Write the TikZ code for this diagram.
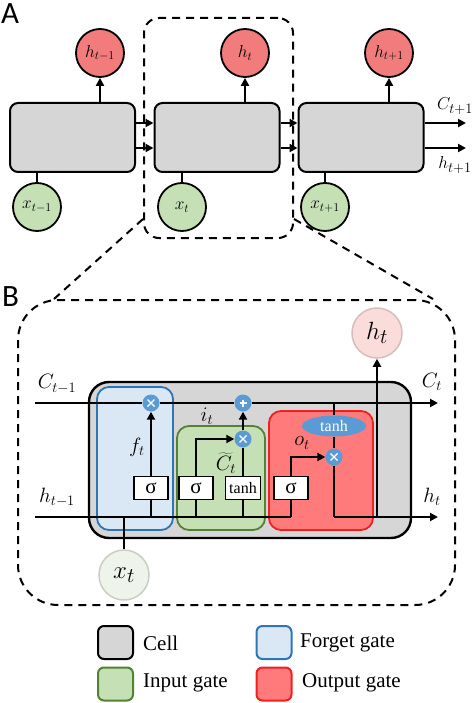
\documentclass[tikz,border=0pt]{standalone}
\usepackage{fontspec}
\setmainfont{Liberation Serif}
\newfontfamily\panelfont{Carlito}
\usetikzlibrary{arrows.meta,shapes.geometric,calc}
\definecolor{cellgray}{HTML}{D6D6D6}
\definecolor{hred}{HTML}{F27C7C}
\definecolor{xgreen}{HTML}{C5E0B4}
\definecolor{fgfill}{HTML}{DAE8F5}
\definecolor{fgdraw}{HTML}{2E75B6}
\definecolor{igfill}{HTML}{C5E0B4}
\definecolor{igdraw}{HTML}{548235}
\definecolor{ogfill}{HTML}{FF7A7A}
\definecolor{ogdraw}{HTML}{F02020}
\definecolor{opblue}{HTML}{5B9BD5}
\definecolor{htfill}{HTML}{FADCDB}
\definecolor{htdraw}{HTML}{D5BDBC}
\definecolor{xtfill}{HTML}{EEF4EA}
\definecolor{xtdraw}{HTML}{C8CEC4}
\newcommand{\fs}[1]{\fontsize{#1}{#1}\selectfont}
\begin{document}
\begin{tikzpicture}[x=1pt,y=-1pt,
  ln/.style={line width=2.6pt},
  arr/.style={line width=2.6pt,-{Triangle[length=8pt,width=8pt]}},
  dash box/.style={draw=black,line width=2pt,dash pattern=on 8pt off 6pt},
  cellA/.style={draw=black,line width=2pt,fill=cellgray,rounded corners=8pt,minimum width=125pt,minimum height=69pt,inner sep=0},
  hA/.style={circle,draw=black,line width=1.8pt,fill=hred,minimum size=48pt,inner sep=0,font=\fs{18}},
  xA/.style={circle,draw=black,line width=1.8pt,fill=xgreen,minimum size=48pt,inner sep=0,font=\fs{18}},
  gate/.style={line width=1.8pt,rounded corners=12pt,inner sep=0},
  opx/.style={circle,fill=opblue,minimum size=17pt,inner sep=0,
    path picture={\draw[white,line width=1.2pt] (path picture bounding box.center) ++(-3.5,-3.5) -- ++(7,7) ++(-7,0) -- ++(7,-7);}},
  opplus/.style={circle,fill=opblue,minimum size=17pt,inner sep=0,
    path picture={\draw[white,line width=1.2pt] (path picture bounding box.center) ++(-3.5,0) -- ++(7,0) ++(-3.5,-3.5) -- ++(0,7);}},
  sbox/.style={draw=black,fill=white,line width=1.2pt,minimum width=34pt,minimum height=23pt,inner sep=0,font=\fs{21}},
  tbox/.style={draw=black,fill=white,line width=1.2pt,minimum width=35pt,minimum height=23pt,inner sep=0,font=\fs{16}},
  lab/.style={inner sep=0,font=\fs{21}},
  legbox/.style={line width=2pt,rounded corners=6pt,minimum width=35pt,minimum height=33pt,inner sep=0},
  legtext/.style={anchor=west,inner sep=0,font=\fs{21}}
]
\useasboundingbox (0,0) rectangle (474,703);

% ---------------- Panel A ----------------
\node[inner sep=0,font=\panelfont\fs{31}] (labA) at (10,14) {A};
\node[cellA] (c1) at (72.5,137.5) {};
\node[cellA] (c2) at (217,137.5) {};
\node[cellA] (c3) at (361,137.5) {};
\node[hA] (h1) at (100,53) {$h_{t-1}$};
\node[hA] (h2) at (245,53) {$h_t$};
\node[hA] (h3) at (389,53) {$h_{t+1}$};
\node[xA] (x1) at (37,207) {$x_{t-1}$};
\node[xA] (x2) at (182,207) {$x_t$};
\node[xA] (x3) at (325,207) {$x_{t+1}$};
\foreach \h/\c in {h1/c1,h2/c2,h3/c3}{
  \draw[arr] (\h.south |- \c.north) -- (\h.south);
}
\foreach \x/\c in {x1/c1,x2/c2,x3/c3}{
  \draw[ln] (\x.north) -- (\x.north |- \c.south);
}
\draw[arr] ([yshift=14.5pt]c1.east) -- ([yshift=14.5pt]c2.west);
\draw[arr] ([yshift=-10.5pt]c1.east) -- ([yshift=-10.5pt]c2.west);
\draw[arr] ([yshift=14.5pt]c2.east) -- ([yshift=14.5pt]c3.west);
\draw[arr] ([yshift=-10.5pt]c2.east) -- ([yshift=-10.5pt]c3.west);
\coordinate (endC) at (466,123);
\coordinate (endH) at (466,148);
\draw[arr] ([yshift=14.5pt]c3.east) -- (endC);
\draw[arr] ([yshift=-10.5pt]c3.east) -- (endH);
\node[lab,font=\fs{19}] (lC1) at (455,106) {$C_{t+1}$};
\node[lab,font=\fs{19}] (lH1) at (455,165) {$h_{t+1}$};
\node[dash box,rounded corners=15pt,minimum width=149pt,minimum height=220pt,inner sep=0] (zoomA) at (218.5,128) {};

% ---------------- Panel B ----------------
\node[inner sep=0,font=\panelfont\fs{31}] (labB) at (10.5,297) {B};
\node[dash box,rounded corners=40pt,minimum width=437pt,minimum height=305pt,inner sep=0] (bigB) at (236.5,452.5) {};
\draw[dash box] ([yshift=20pt]zoomA.south west) -- ($(bigB.north west)+(37,0)$);
\draw[dash box] ([yshift=20pt]zoomA.south east) -- ($(bigB.north east)+(-23,0)$);

\node[draw=black,line width=2.4pt,fill=cellgray,rounded corners=20pt,minimum width=322pt,minimum height=156pt,inner sep=0] (cellB) at (250,460) {};
\node[gate,draw=fgdraw,fill=fgfill,minimum width=76pt,minimum height=143pt] (fg) at (135,458.5) {};
\node[gate,draw=igdraw,fill=igfill,minimum width=88pt,minimum height=104pt] (ig) at (221,478) {};
\node[gate,draw=ogdraw,fill=ogfill,minimum width=104pt,minimum height=119pt] (og) at (321,470.5) {};

\coordinate (Cs) at (35,403);
\coordinate (Ce) at (438,403);
\coordinate (hs) at (35,517);
\coordinate (he) at (438,517);

\node[opx] (fx) at (151,403) {};
\node[opplus] (pl) at (243,403) {};
\node[opx] (ix) at (243,439) {};
\node[opx] (ox) at (334,457) {};
\node[sbox] (sf) at (151,488) {σ};
\node[sbox] (si) at (196,488) {σ};
\node[tbox] (st) at (243,488) {tanh};
\node[sbox] (so) at (291,488) {σ};
\node[ellipse,fill=opblue,minimum width=64pt,minimum height=21pt,inner sep=0,text=white,font=\fs{16}] (te) at (334,426) {tanh};
\node[circle,draw=htdraw,line width=1.5pt,fill=htfill,minimum size=50pt,inner sep=0,font=\fs{28}] (htc) at (377,333) {$h_t$};
\node[circle,draw=xtdraw,line width=1.5pt,fill=xtfill,minimum size=50pt,inner sep=0,font=\fs{28}] (xtc) at (124,575) {$x_t$};

% cell state line
\draw[ln] (Cs) -- (fx.west);
\draw[ln] (fx.east) -- (pl.west);
\draw[arr] (pl.east) -- (Ce);
% hidden line
\draw[ln] (hs) -- (so.south |- hs);
\draw[arr] (ox.south |- he) -- (he);
\draw[ln] (xtc.north) -- (xtc.north |- hs);
% forget gate
\draw[ln] (sf.south |- hs) -- (sf.south);
\draw[arr] (sf.north) -- (fx.south);
% input gate
\draw[ln] (si.south |- hs) -- (si.south);
\draw[arr] (si.north) |- (ix.west);
\draw[ln] (st.south |- hs) -- (st.south);
\draw[ln] (st.north) -- (ix.south);
\draw[arr] (ix.north) -- (pl.south);
% output gate
\draw[ln] (so.south |- hs) -- (so.south);
\draw[arr] (so.north) |- (ox.west);
\draw[ln] (te.north |- Cs) -- (te.north);
\draw[ln] (te.south) -- (ox.north);
\draw[ln] (ox.south) -- (ox.south |- he);
% output h_t
\draw[arr] (htc.south |- he) -- (htc.south);

% labels
\node[lab] (lCm) at (57,384) {$C_{t-1}$};
\node[lab] (lCt) at (432,382) {$C_t$};
\node[lab] (lhm) at (57,497) {$h_{t-1}$};
\node[lab] (lht) at (432,497) {$h_t$};
\node[lab,font=\fs{22}] (lf) at (137,447) {$f_t$};
\node[lab,font=\fs{22}] (li) at (207,416) {$i_t$};
\node[lab,font=\fs{21}] (lc) at (226,463) {$\widetilde{C}_t$};
\node[lab,font=\fs{22}] (lo) at (302,443) {$o_t$};

% ---------------- Legend ----------------
\node[legbox,draw=black,fill=cellgray] (lg1) at (115.5,642.5) {};
\node[legtext] (lt1) at (143,643) {Cell};
\node[legbox,draw=fgdraw,fill=fgfill] (lg2) at (274,642.5) {};
\node[legtext] (lt2) at (300,643) {Forget gate};
\node[legbox,draw=igdraw,fill=igfill] (lg3) at (115.5,684) {};
\node[legtext] (lt3) at (143,683) {Input gate};
\node[legbox,draw=ogdraw,fill=ogfill] (lg4) at (274,684) {};
\node[legtext] (lt4) at (302,683) {Output gate};
\end{tikzpicture}
\end{document}
